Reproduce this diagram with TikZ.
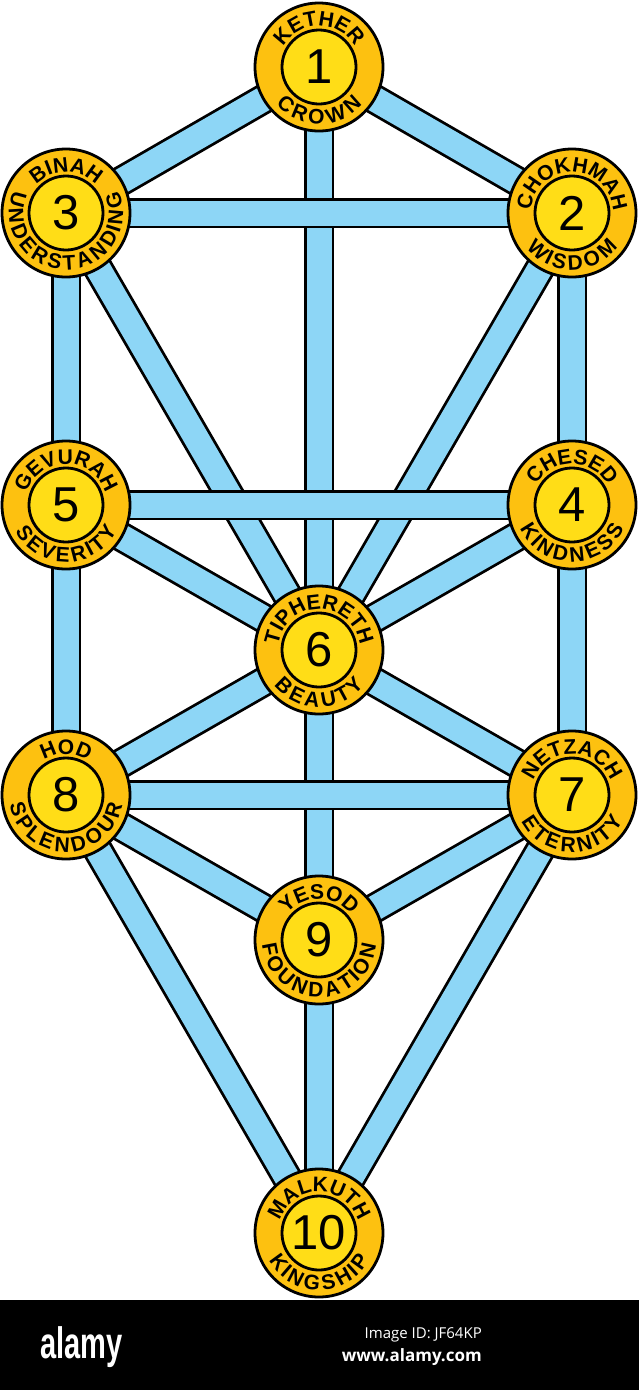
\documentclass[tikz,border=0pt]{standalone}
\usepackage{fontspec}
\setmainfont{Liberation Sans}
\newfontfamily\ringfont{Liberation Sans}
\newfontfamily\digitfont{Liberation Sans}
\newfontfamily\stampfont{Liberation Sans}[FakeStretch=0.66]
\newfontfamily\idfont{Open Sans}
\usetikzlibrary{calc, backgrounds, decorations.text}
\definecolor{ringgold}{RGB}{253,193,16}
\definecolor{coreyellow}{RGB}{255,221,23}
\definecolor{pathblue}{RGB}{141,214,246}
\newcommand\ringstyle{\ringfont\bfseries\fontsize{21pt}{21pt}\selectfont}
\tikzset{
  sephira/.style={circle, draw=black, line width=2.8pt, fill=ringgold,
    minimum size=128pt, inner sep=0pt,
    font=\digitfont\fontsize{49pt}{49pt}\selectfont,
    path picture={\draw[fill=coreyellow, line width=2.8pt]
      (path picture bounding box.center) circle (37pt);}},
  conduit/.style={draw=black, line width=2.8pt, double=pathblue, double distance=25pt},
}
\newcommand\sephnames[3]{%
  \path[decorate, decoration={text along path, text align=center, text={|\ringstyle|#2}}]
    ($(#1.center)+(240:41)$) arc[start angle=240, end angle=-60, radius=41];
  \path[decorate, decoration={text along path, text align=center, raise=-11pt, text={|\ringstyle|#3}}]
    ($(#1.center)+(120:46)$) arc[start angle=120, end angle=420, radius=46];}

\begin{document}
\begin{tikzpicture}[x=1pt,y=1pt]
\useasboundingbox (0,0) rectangle (639,-1390);
\node[sephira] (s1) at (319,-67) {1};
\node[sephira] (s2) at (572,-213) {2};
\node[sephira] (s3) at (66,-213) {3};
\node[sephira] (s4) at (572,-505) {4};
\node[sephira] (s5) at (66,-505) {5};
\node[sephira] (s6) at (319,-650) {6};
\node[sephira] (s7) at (572,-795) {7};
\node[sephira] (s8) at (66,-795) {8};
\node[sephira] (s9) at (319,-940) {9};
\node[sephira] (s10) at (319,-1233) {10};
\begin{scope}[on background layer]
\foreach \a/\b in {s1/s2,s1/s3,s1/s6,s2/s4,s2/s6,s3/s5,s3/s6,s4/s6,s4/s7,s5/s6,
  s5/s8,s6/s7,s6/s8,s6/s9,s7/s9,s7/s10,s8/s9,s8/s10,s9/s10,s2/s3,s4/s5,s7/s8}
  \draw[conduit] (\a.center) -- (\b.center);
\end{scope}
\sephnames{s1}{KETHER}{CROWN}
\sephnames{s2}{CHOKHMAH}{WISDOM}
\sephnames{s3}{BINAH}{UNDERSTANDING}
\sephnames{s4}{CHESED}{KINDNESS}
\sephnames{s5}{GEVURAH}{SEVERITY}
\sephnames{s6}{TIPHERETH}{BEAUTY}
\sephnames{s7}{NETZACH}{ETERNITY}
\sephnames{s8}{HOD}{SPLENDOUR}
\sephnames{s9}{YESOD}{FOUNDATION}
\sephnames{s10}{MALKUTH}{KINGSHIP}
\fill[black] (0,-1300) rectangle (639,-1390);
\node[anchor=base west, inner sep=0pt, text=white, font=\stampfont\bfseries\fontsize{44pt}{44pt}\selectfont] (logo) at (40,-1358) {alamy};
\node[anchor=base east, inner sep=0pt, text=white, font=\idfont\fontsize{15pt}{15pt}\selectfont] (imgid) at (482,-1338) {Image ID: JF64KP};
\node[anchor=base east, inner sep=0pt, text=white, font=\idfont\bfseries\fontsize{17pt}{17pt}\selectfont] (site) at (482,-1361) {www.alamy.com};
\end{tikzpicture}
\end{document}
